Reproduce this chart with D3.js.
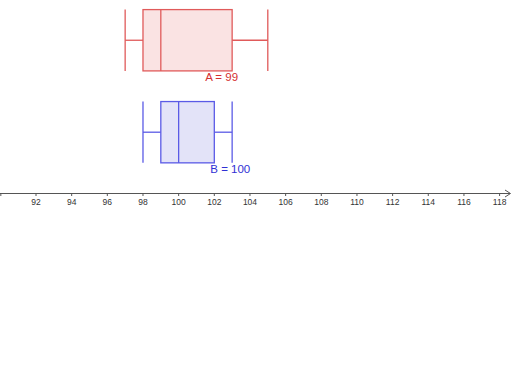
<!DOCTYPE html>
<html><head><meta charset="utf-8">
<script src="https://cdn.jsdelivr.net/npm/d3@7"></script>
<style>html,body{margin:0;padding:0;background:#fff;overflow:hidden}svg{display:block}</style>
</head><body>
<svg id="c" width="512" height="391"></svg>
<script>
const names = ["A", "B"];
const labels = ["A = 99", "B = 100"];
const mins = [97, 98];
const q1s = [98, 99];
const medians = [99, 100];
const q3s = [103, 102];
const maxs = [105, 103];
const yLevels = [5, 2];
const tickValues = [92,94,96,98,100,102,104,106,108,110,112,114,116,118];
const strokes = ["#e05a5a", "#5a5ae6"];
const fills = ["#fae3e3", "#e3e3f8"];
const textColors = ["#d43030", "#3030d4"];

const svg = d3.select("#c");
const x = d3.scaleLinear().domain([92, 118]).range([36, 499.6]);
const y = d3.scaleLinear().domain([0, 2]).range([193.5, 132.2]);
const halfH = 1;

// axis
svg.append("line").attr("x1", 0).attr("x2", 510).attr("y1", y(0)).attr("y2", y(0))
  .attr("stroke", "#555").attr("stroke-width", 1);
svg.append("path").attr("d", `M505,${y(0)-3.5} L510.5,${y(0)} L505,${y(0)+3.5}`)
  .attr("fill", "none").attr("stroke", "#555").attr("stroke-width", 1);
const tg = svg.append("g");
tickValues.forEach(v => {
  tg.append("line").attr("x1", x(v)).attr("x2", x(v)).attr("y1", y(0)).attr("y2", y(0) + 2.5)
    .attr("stroke", "#555");
  tg.append("text").attr("x", x(v)).attr("y", y(0) + 11).attr("text-anchor", "middle")
    .attr("font-family", "Liberation Sans, Arial, sans-serif").attr("font-size", 8.5)
    .attr("fill", "#333").text(v);
});
// minor tick at 90
tg.append("line").attr("x1", x(90)+0.5).attr("x2", x(90)+0.5).attr("y1", y(0)).attr("y2", y(0)+2.5).attr("stroke", "#555");

names.forEach((n, i) => {
  const g = svg.append("g");
  const yc = y(yLevels[i]), yt = y(yLevels[i] + halfH), yb = y(yLevels[i] - halfH);
  const st = strokes[i];
  g.append("rect").attr("x", x(q1s[i])).attr("y", yt).attr("width", x(q3s[i]) - x(q1s[i]))
    .attr("height", yb - yt).attr("fill", fills[i]).attr("stroke", st).attr("stroke-width", 1.3);
  g.append("line").attr("x1", x(medians[i])).attr("x2", x(medians[i])).attr("y1", yt).attr("y2", yb)
    .attr("stroke", st).attr("stroke-width", 1.3);
  g.append("line").attr("x1", x(mins[i])).attr("x2", x(q1s[i])).attr("y1", yc).attr("y2", yc)
    .attr("stroke", st).attr("stroke-width", 1.3);
  g.append("line").attr("x1", x(q3s[i])).attr("x2", x(maxs[i])).attr("y1", yc).attr("y2", yc)
    .attr("stroke", st).attr("stroke-width", 1.3);
  [mins[i], maxs[i]].forEach(v => {
    g.append("line").attr("x1", x(v)).attr("x2", x(v)).attr("y1", yt).attr("y2", yb)
      .attr("stroke", st).attr("stroke-width", 1.3);
  });
  g.append("text").attr("x", x(q3s[i]) - (i === 0 ? 27 : 4)).attr("y", yb + 10)
    .attr("font-family", "Liberation Sans, Arial, sans-serif").attr("font-size", 11.5)
    .attr("fill", textColors[i]).text(labels[i]);
});
</script>
</body></html>
